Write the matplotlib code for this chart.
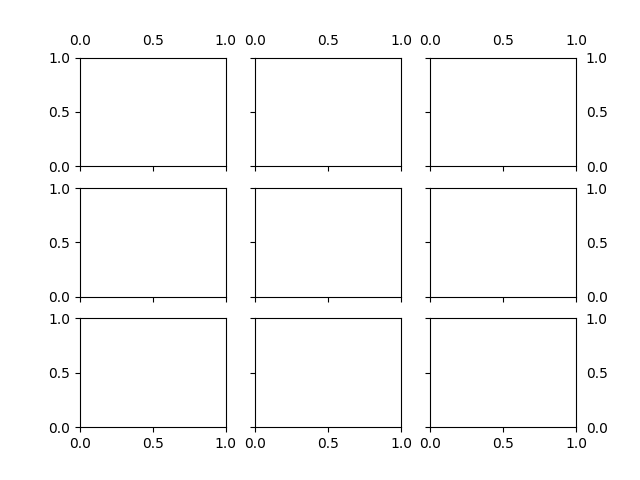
import matplotlib
matplotlib.use("Agg")
import matplotlib.pyplot as plt

xlim = [0.0, 1.0]
ylim = [0.0, 1.0]
tick_values = [0.0, 0.5, 1.0]
tick_labels = ["0.0", "0.5", "1.0"]

fig, axs = plt.subplots(3, 3, sharex=True, sharey=True, figsize=(6.4, 4.8), dpi=100)
axs[0, 0].set_xlim(xlim)
axs[0, 0].set_ylim(ylim)
axs[0, 0].set_xticks(tick_values, tick_labels)
axs[0, 0].set_yticks(tick_values, tick_labels)

for i in range(3):
    for j in range(3):
        ax = axs[i, j]
        ax.tick_params(axis="x", labelbottom=(i == 2), labeltop=(i == 0))
        ax.tick_params(axis="y", labelleft=(j == 0), labelright=(j == 2))

fig.savefig("out.png")
